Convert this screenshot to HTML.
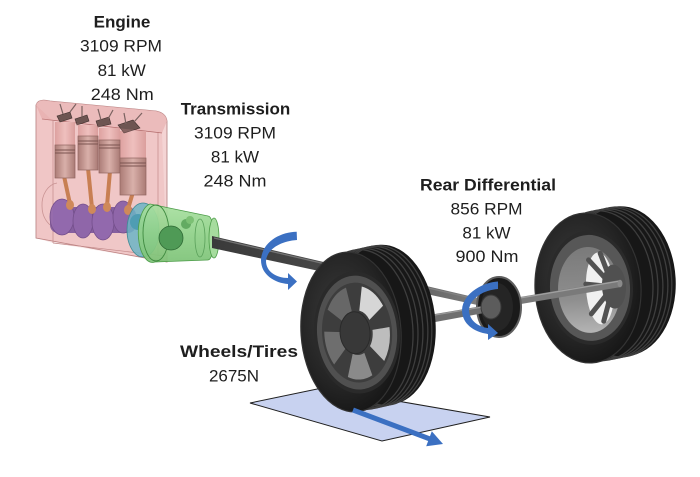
<!DOCTYPE html>
<html><head><meta charset="utf-8">
<style>html,body{margin:0;padding:0;background:#fff;width:700px;height:477px;overflow:hidden}svg{display:block}</style>
</head><body>
<svg width="700" height="477" viewBox="0 0 700 477" xmlns="http://www.w3.org/2000/svg">
<defs>
<radialGradient id="side" cx="0.42" cy="0.42" r="0.62"><stop offset="0" stop-color="#3c3c3c"/><stop offset="0.7" stop-color="#242424"/><stop offset="1" stop-color="#161616"/></radialGradient>
<linearGradient id="shaft" x1="213" y1="0" x2="482" y2="0" gradientUnits="userSpaceOnUse"><stop offset="0" stop-color="#3a3a3a"/><stop offset="0.5" stop-color="#4a4a4a"/><stop offset="1" stop-color="#7d7d7d"/></linearGradient>
<linearGradient id="pist" x1="0" y1="0" x2="1" y2="0"><stop offset="0" stop-color="#9c746d"/><stop offset="0.5" stop-color="#d6b6ae"/><stop offset="1" stop-color="#9a726b"/></linearGradient>
<linearGradient id="bore" x1="0" y1="0" x2="1" y2="0"><stop offset="0" stop-color="#dca4a2"/><stop offset="0.5" stop-color="#f2cac8"/><stop offset="1" stop-color="#d8a09e"/></linearGradient>
<linearGradient id="green" x1="0" y1="0" x2="0" y2="1"><stop offset="0" stop-color="#a8e0a0"/><stop offset="0.5" stop-color="#8fd188"/><stop offset="1" stop-color="#7cc276"/></linearGradient>
<linearGradient id="barrel" x1="0" y1="0" x2="0" y2="1"><stop offset="0" stop-color="#7a7a7a"/><stop offset="0.6" stop-color="#8e8e8e"/><stop offset="1" stop-color="#b4b4b4"/></linearGradient>
</defs>

<!-- ================= ENGINE ================= -->
<path d="M36,105 Q38,98 50,101 L156,111 Q166,113 167,121 L167,262 L36,238 Z" fill="#f4d4d4" stroke="#b07a7a" stroke-width="0.8"/>
<path d="M36,105 Q38,98 50,101 L156,111 Q166,113 167,121 L162,133 L42,119 Z" fill="#e9b4b4" opacity="0.8"/>
<line x1="53" y1="121" x2="53" y2="243" stroke="#b98585" stroke-width="0.7"/>
<line x1="53" y1="243" x2="165" y2="256" stroke="#b98585" stroke-width="0.7"/>
<line x1="158" y1="132" x2="158" y2="256" stroke="#b98585" stroke-width="0.7"/>
<line x1="42" y1="119" x2="162" y2="133" stroke="#b06a6a" stroke-width="0.8"/>
<path d="M57,183 A17,22 0 0 0 42,206 A17,22 0 0 0 57,228" fill="none" stroke="#c09090" stroke-width="0.8"/>
<rect x="55" y="122" width="20" height="24" fill="url(#bore)"/>
<rect x="78" y="125" width="20" height="12" fill="url(#bore)"/>
<rect x="99" y="128" width="21" height="13" fill="url(#bore)"/>
<rect x="120" y="131" width="26" height="28" fill="url(#bore)"/>
<rect x="50" y="207" width="86" height="26" rx="8" fill="#6c4fa0"/>
<ellipse cx="62" cy="217" rx="12" ry="18" fill="#7c5cb2" stroke="#553a88" stroke-width="0.8"/>
<ellipse cx="83" cy="221" rx="10" ry="17" fill="#7858ad" stroke="#553a88" stroke-width="0.8"/>
<ellipse cx="103" cy="222" rx="11" ry="18" fill="#7c5cb2" stroke="#553a88" stroke-width="0.8"/>
<ellipse cx="123" cy="217" rx="10" ry="16" fill="#7858ad" stroke="#553a88" stroke-width="0.8"/>
<g stroke="#c0783f" stroke-width="4" stroke-linecap="round">
<line x1="64" y1="176" x2="70" y2="204"/>
<line x1="88" y1="168" x2="92" y2="208"/>
<line x1="110" y1="171" x2="107" y2="206"/>
<line x1="133" y1="192" x2="128" y2="209"/>
</g>
<g fill="#c98548">
<ellipse cx="70" cy="205" rx="4" ry="5"/><ellipse cx="92" cy="209" rx="4" ry="5"/><ellipse cx="107" cy="207" rx="4" ry="5"/><ellipse cx="128" cy="210" rx="4" ry="5"/>
</g>
<g stroke="#7a5650" stroke-width="0.7">
<rect x="55" y="145" width="20" height="33" fill="url(#pist)"/>
<rect x="78" y="136" width="20" height="34" fill="url(#pist)"/>
<rect x="99" y="140" width="21" height="33" fill="url(#pist)"/>
<rect x="120" y="158" width="26" height="37" fill="url(#pist)"/>
</g>
<g stroke="#5e403b" stroke-width="1">
<line x1="55" y1="150" x2="75" y2="150"/><line x1="55" y1="153" x2="75" y2="153"/>
<line x1="78" y1="141" x2="98" y2="141"/><line x1="78" y1="144" x2="98" y2="144"/>
<line x1="99" y1="145" x2="120" y2="145"/><line x1="99" y1="148" x2="120" y2="148"/>
<line x1="120" y1="163" x2="146" y2="163"/><line x1="120" y1="166" x2="146" y2="166"/>
</g>
<g fill="#6e5552" stroke="#3e2e2c" stroke-width="0.6">
<path d="M57,116 L70,112 L72,118 L60,122 Z"/>
<path d="M75,119 L87,115 L89,121 L77,125 Z"/>
<path d="M96,121 L109,117 L111,124 L98,127 Z"/>
<path d="M118,125 L133,120 L140,128 L124,133 Z"/>
</g>
<g stroke="#7a6260" stroke-width="1.2">
<line x1="63" y1="114" x2="60" y2="104"/><line x1="70" y1="112" x2="76" y2="104"/>
<line x1="82" y1="117" x2="82" y2="106"/><line x1="101" y1="120" x2="98" y2="109"/>
<line x1="108" y1="119" x2="113" y2="110"/><line x1="126" y1="124" x2="124" y2="113"/>
<line x1="134" y1="122" x2="142" y2="113"/>
</g>
<path d="M53,121 L162,133 L167,262 L53,243 Z" fill="#e29a9a" opacity="0.22"/>
<path d="M36,105 L53,121 L53,243 L36,238 Z" fill="#e29a9a" opacity="0.25"/>

<!-- ================= TRANSMISSION ================= -->
<ellipse cx="143" cy="230" rx="16" ry="27" fill="#6cb4c4" fill-opacity="0.85" stroke="#3f8a95" stroke-width="0.8"/>
<circle cx="138" cy="222" r="8" fill="#4f9db3"/>
<path d="M150,204 L208,216 A6,22 0 0 1 208,260 L155,262 A14,29 0 0 1 150,204 Z" fill="url(#green)" fill-opacity="0.92" stroke="#4c9c48" stroke-width="0.8"/>
<ellipse cx="156" cy="233" rx="13" ry="28" fill="none" stroke="#3f8a40" stroke-width="0.9"/>
<circle cx="171" cy="238" r="12" fill="#4f9a56" stroke="#2e6a34" stroke-width="0.8"/>
<circle cx="186" cy="224" r="5" fill="#63ab62"/>
<circle cx="190" cy="220" r="4" fill="#7cc074"/>
<ellipse cx="200" cy="238" rx="5" ry="19" fill="none" stroke="#5aa05a" stroke-width="0.8"/>
<ellipse cx="214" cy="238" rx="5" ry="20" fill="#a6dc9e" stroke="#4c9c48" stroke-width="0.8"/>

<!-- ================= RIGHT WHEEL ================= -->
<g transform="translate(588,288) rotate(-3)">
<g fill="#171717">
<ellipse cx="0" cy="0" rx="53" ry="75"/><ellipse cx="3.5" cy="-0.5" rx="53" ry="75"/><ellipse cx="7" cy="-1" rx="53" ry="75"/><ellipse cx="10.5" cy="-1.5" rx="53" ry="75"/><ellipse cx="14" cy="-2" rx="53" ry="75"/><ellipse cx="17.5" cy="-2.5" rx="53" ry="75"/><ellipse cx="21" cy="-3" rx="53" ry="75"/><ellipse cx="24.5" cy="-3.5" rx="53" ry="75"/><ellipse cx="28" cy="-4" rx="53" ry="75"/><ellipse cx="31.5" cy="-4.5" rx="53" ry="75"/><ellipse cx="35" cy="-5" rx="53" ry="75"/>
</g>
<g fill="none" stroke="#3e3e3e" stroke-width="1.3">
<ellipse cx="12" cy="-1.7" rx="53" ry="75"/><ellipse cx="17" cy="-2.4" rx="53" ry="75"/><ellipse cx="22" cy="-3.1" rx="53" ry="75"/><ellipse cx="27" cy="-3.9" rx="53" ry="75"/><ellipse cx="31" cy="-4.4" rx="53" ry="75"/>
</g>
<ellipse cx="0" cy="0" rx="53" ry="75" fill="url(#side)" stroke="#333" stroke-width="1.2"/>
<ellipse cx="2" cy="0" rx="43" ry="57" fill="#2a2a2a"/>
<ellipse cx="2" cy="0" rx="40" ry="53" fill="#575757"/>
<ellipse cx="1" cy="2" rx="31" ry="43" fill="url(#barrel)"/>
<ellipse cx="12" cy="1" rx="14" ry="36" fill="#f0f0f0"/>
<g stroke="#525252" stroke-width="5" stroke-linecap="round">
<line x1="25" y1="0" x2="2" y2="-28"/>
<line x1="25" y1="0" x2="-2" y2="-4"/>
<line x1="25" y1="0" x2="2" y2="26"/>
<line x1="25" y1="0" x2="14" y2="34"/>
<line x1="25" y1="0" x2="14" y2="-34"/>
</g>
<ellipse cx="26" cy="0" rx="12" ry="22" fill="#505050"/>
</g>
<path d="M520,297 L620,280 L621,287 L521,304 Z" fill="#7a7a7a"/>
<line x1="520" y1="298" x2="620" y2="281" stroke="#a0a0a0" stroke-width="1.2"/>
<ellipse cx="620" cy="283.5" rx="2.5" ry="3.8" fill="#8a8a8a"/>

<!-- ================= DRIVESHAFT ================= -->
<path d="M212,236 L482,299 L482,306 L212,248 Z" fill="url(#shaft)"/>
<line x1="214" y1="238" x2="480" y2="300" stroke="#8a8a8a" stroke-width="1.3" opacity="0.7"/>

<ellipse cx="499" cy="307" rx="22" ry="30" fill="#1a1a1a" stroke="#5e5e5e" stroke-width="2"/>
<ellipse cx="497" cy="307" rx="16" ry="24" fill="#252525"/>
<path d="M358,327 L494,304 L495,311 L359,336 Z" fill="#6f6f6f"/>
<line x1="358" y1="328" x2="494" y2="305" stroke="#999" stroke-width="1.2"/>
<ellipse cx="491" cy="307" rx="10" ry="12" fill="#5c5c5c" stroke="#3a3a3a" stroke-width="1"/>
<path d="M498,281.5 C485,282 463,292 462,310 C462,324 474,332 488,334 L488,340 L498,333 L488,324 L488,328 C478,327 469,320 469,310 C470,298 484,290 498,289 Z" fill="#3b70c2"/>

<!-- ================= GROUND PLANE ================= -->
<polygon points="250,403 322,388 490,417 382,441" fill="#c8d2f0" stroke="#1f1f1f" stroke-width="1"/>

<!-- ================= LEFT WHEEL ================= -->
<g transform="translate(351,332) rotate(-4)">
<g fill="#171717">
<ellipse cx="0" cy="0" rx="50" ry="80"/><ellipse cx="3.5" cy="-0.5" rx="50" ry="80"/><ellipse cx="7" cy="-1" rx="50" ry="80"/><ellipse cx="10.5" cy="-1.5" rx="50" ry="80"/><ellipse cx="14" cy="-2" rx="50" ry="80"/><ellipse cx="17.5" cy="-2.5" rx="50" ry="80"/><ellipse cx="21" cy="-3" rx="50" ry="80"/><ellipse cx="24.5" cy="-3.5" rx="50" ry="80"/><ellipse cx="28" cy="-4" rx="50" ry="80"/><ellipse cx="31.5" cy="-4.5" rx="50" ry="80"/><ellipse cx="35" cy="-5" rx="50" ry="80"/>
</g>
<g fill="none" stroke="#3e3e3e" stroke-width="1.3">
<ellipse cx="12" cy="-1.7" rx="50" ry="80"/><ellipse cx="17" cy="-2.4" rx="50" ry="80"/><ellipse cx="22" cy="-3.1" rx="50" ry="80"/><ellipse cx="27" cy="-3.9" rx="50" ry="80"/><ellipse cx="31" cy="-4.4" rx="50" ry="80"/>
</g>
<ellipse cx="0" cy="0" rx="50" ry="80" fill="url(#side)" stroke="#333" stroke-width="1.2"/>
<ellipse cx="6" cy="1" rx="43" ry="61" fill="#2a2a2a"/>
<ellipse cx="6" cy="1" rx="40" ry="57" fill="#505050"/>
<ellipse cx="6" cy="1" rx="35" ry="50" fill="#3d3d3d"/>
<g transform="translate(6,1) scale(0.78,1.12)">
<path d="M4.84,-19.41 L10.16,-40.75 A42,42 0 0 1 35.62,-22.26 L16.96,-10.60 A20,20 0 0 0 4.84,-19.41 Z" fill="#d6d6d6"/>
<path d="M19.95,-1.40 L41.90,-2.93 A42,42 0 0 1 32.17,27.00 L15.32,12.86 A20,20 0 0 0 19.95,-1.40 Z" fill="#bdbdbd"/>
<path d="M7.49,18.54 L15.73,38.94 A42,42 0 0 1 -15.73,38.94 L-7.49,18.54 A20,20 0 0 0 7.49,18.54 Z" fill="#8a8a8a"/>
<path d="M-15.32,12.86 L-32.17,27.00 A42,42 0 0 1 -41.90,-2.93 L-19.95,-1.40 A20,20 0 0 0 -15.32,12.86 Z" fill="#6e6e6e"/>
<path d="M-16.96,-10.60 L-35.62,-22.26 A42,42 0 0 1 -10.16,-40.75 L-4.84,-19.41 A20,20 0 0 0 -16.96,-10.60 Z" fill="#676767"/>
</g>
<ellipse cx="4" cy="1" rx="15" ry="21" fill="#383838" stroke="#2a2a2a" stroke-width="1"/>
</g>

<line x1="353" y1="410" x2="430" y2="439" stroke="#3b70c2" stroke-width="5"/>
<polygon points="443,444 431.8,431.2 426.2,446.2" fill="#3b70c2"/>

<path d="M296.7,231.7 C280,232 262,242 261,260 C261,275 275,283 288,284 L288,290 L297,281.5 L288,273 L288,278 C277,278 266,272 266,261 C267,249 281,241 297,240 Z" fill="#3b70c2"/>

<!-- ================= TEXT ================= -->
<g font-family="'Liberation Sans', Arial, sans-serif" font-size="17" fill="#1e1e1e" text-anchor="middle">
<text x="122" y="27.5" font-weight="bold">Engine</text>
<text x="121" y="51.7" textLength="82" lengthAdjust="spacingAndGlyphs">3109 RPM</text>
<text x="121.7" y="76">81 kW</text>
<text x="122.3" y="100" textLength="63" lengthAdjust="spacingAndGlyphs">248 Nm</text>

<text x="235.5" y="114.5" font-weight="bold">Transmission</text>
<text x="235" y="138.5" textLength="82" lengthAdjust="spacingAndGlyphs">3109 RPM</text>
<text x="235" y="162.5">81 kW</text>
<text x="235" y="186.5" textLength="63" lengthAdjust="spacingAndGlyphs">248 Nm</text>

<text x="488" y="190.5" font-weight="bold" textLength="136" lengthAdjust="spacingAndGlyphs">Rear Differential</text>
<text x="486.5" y="214.5" textLength="72" lengthAdjust="spacingAndGlyphs">856 RPM</text>
<text x="486.5" y="238.5">81 kW</text>
<text x="487" y="262" textLength="63" lengthAdjust="spacingAndGlyphs">900 Nm</text>

<text x="239" y="357" font-weight="bold" textLength="118" lengthAdjust="spacingAndGlyphs">Wheels/Tires</text>
<text x="234" y="381.5">2675N</text>
</g>
</svg>
</body></html>
